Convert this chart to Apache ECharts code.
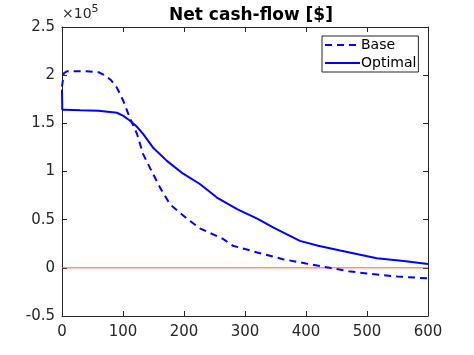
<!DOCTYPE html>
<html><head><meta charset="utf-8">
<script src="https://cdn.jsdelivr.net/npm/echarts@6/dist/echarts.min.js"></script>
<style>html,body{margin:0;padding:0;background:#fff}#c{width:474px;height:355px}</style>
</head><body><div id="c"></div>
<script>
// values in units of 1e5 $
const baseX = [0, 3, 8, 20, 40, 60, 70, 80, 90, 100, 111, 123, 133, 144, 161, 177, 205, 226, 264, 280, 320, 362, 400, 439, 470, 500, 550, 600];
const baseY = [1.88, 2.02, 2.04, 2.04, 2.04, 2.03, 2.0, 1.95, 1.87, 1.74, 1.56, 1.39, 1.18, 1.04, 0.83, 0.66, 0.51, 0.41, 0.30, 0.23, 0.16, 0.09, 0.045, 0.0, -0.035, -0.06, -0.09, -0.11];
const optX = [0, 0.5, 5, 30, 60, 90, 100, 111, 122, 133, 149, 172, 198, 226, 254, 287, 320, 346, 390, 420, 456, 516, 560, 600];
const optY = [1.85, 1.64, 1.64, 1.635, 1.63, 1.61, 1.58, 1.53, 1.47, 1.39, 1.25, 1.11, 0.98, 0.87, 0.73, 0.61, 0.51, 0.42, 0.28, 0.23, 0.18, 0.10, 0.07, 0.04];
const zeroX = [0, 600];
const zeroY = [0, 0];
const xTicks = [0, 100, 200, 300, 400, 500, 600];
const yTicks = [-0.5, 0, 0.5, 1, 1.5, 2, 2.5];

const zip = (a, b) => a.map((v, i) => [v, b[i]]);
const font = 'DejaVu Sans';
const txt = '#262626';
const axisCol = '#262626';

const chart = echarts.init(document.getElementById('c'), null, {renderer: 'canvas'});
const baseAxis = {
  axisLine: {show: true, onZero: false, lineStyle: {color: axisCol, width: 1}},
  axisTick: {show: true, inside: true, length: 5, lineStyle: {color: axisCol}},
  splitLine: {show: false}
};
chart.setOption({
  animation: false,
  backgroundColor: '#fff',
  title: {
    text: 'Net cash-flow [$]', left: 246, top: 2, textAlign: 'center',
    textStyle: {fontFamily: font, fontWeight: 'bold', fontSize: 17, color: '#000'}
  },
  graphic: [{
    type: 'text', left: 62, top: 4,
    style: {
      text: '×10{s|5}', fontFamily: font, fontSize: 14, fill: txt,
      rich: {s: {fontFamily: font, fontSize: 11, verticalAlign: 'top', padding: [0, 0, 9, 0], fill: txt}}
    }
  }],
  legend: {
    data: ['Base', 'Optimal'], orient: 'vertical', left: 322, top: 36,
    itemWidth: 35, itemHeight: 14, itemGap: 4,
    itemStyle: {color: 'rgba(0,0,0,0)', borderColor: 'rgba(0,0,0,0)', borderWidth: 0},
    backgroundColor: '#fff', borderColor: '#262626', borderWidth: 1, borderRadius: 0,
    padding: [2, 2, 2, 2],
    textStyle: {fontFamily: font, fontSize: 14, color: '#000', padding: [0, 0, 0, -4]}
  },
  grid: {left: 62, right: 46, top: 27, bottom: 39, containLabel: false},
  xAxis: [
    Object.assign({}, baseAxis, {
      type: 'value', min: 0, max: 600, interval: 100, position: 'bottom',
      axisLabel: {fontFamily: font, fontSize: 15, color: txt, margin: 9, showMaxLabel: true, showMinLabel: true}
    }),
    Object.assign({}, baseAxis, {
      type: 'value', min: 0, max: 600, interval: 100, position: 'top', axisLabel: {show: false}
    })
  ],
  yAxis: [
    Object.assign({}, baseAxis, {
      type: 'value', min: -0.5, max: 2.5, interval: 0.5, position: 'left',
      axisLabel: {fontFamily: font, fontSize: 15, color: txt, margin: 7}
    }),
    Object.assign({}, baseAxis, {
      type: 'value', min: -0.5, max: 2.5, interval: 0.5, position: 'right', axisLabel: {show: false}
    })
  ],
  series: [
    {
      name: 'zero', type: 'line', data: zip(zeroX, zeroY), showSymbol: false, symbol: 'none',
      lineStyle: {color: '#ff5c5c', width: 1}, z: 1, silent: true
    },
    {
      name: 'Base', type: 'line', data: zip(baseX, baseY), showSymbol: false, symbol: 'none',
      color: '#0000ff', lineStyle: {color: '#0000ff', width: 2, type: [7, 5]}, z: 3
    },
    {
      name: 'Optimal', type: 'line', data: zip(optX, optY), showSymbol: false, symbol: 'none',
      color: '#0000ff', lineStyle: {color: '#0000ff', width: 2, type: 'solid'}, z: 3
    }
  ]
});
</script></body></html>
